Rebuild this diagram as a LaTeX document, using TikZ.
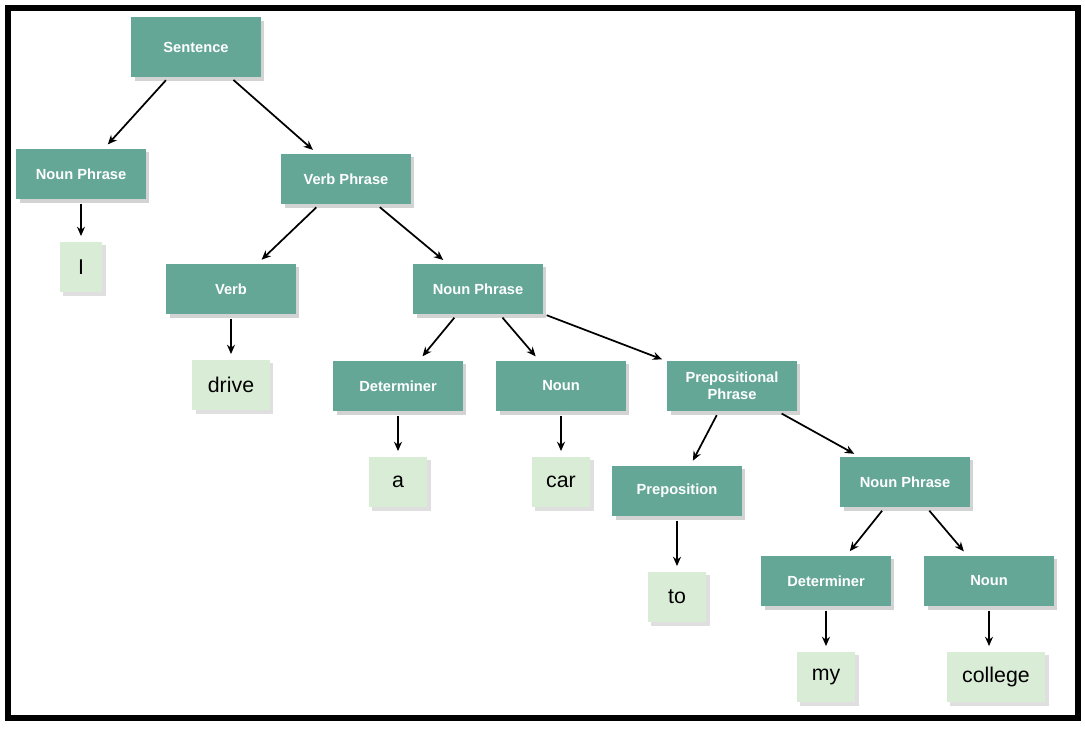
\documentclass[tikz,border=0pt]{standalone}
\usepackage{fontspec}
\setmainfont{Liberation Sans}
\usetikzlibrary{shadows,arrows.meta}
\definecolor{teal1}{HTML}{64A797}
\definecolor{leaf1}{HTML}{D9ECD6}
\tikzset{
  cat/.style={rectangle,fill=teal1,text=white,font=\fontsize{11}{13}\selectfont\bfseries,
    minimum width=97pt,minimum height=38pt,align=center,drop shadow={opacity=0.35}},
  word/.style={rectangle,fill=leaf1,text=black,font=\fontsize{16}{18}\selectfont,
    minimum height=38pt,inner xsep=6pt,drop shadow={opacity=0.25}},
  edge/.style={-{Stealth[length=7pt,width=6pt]},line width=1.3pt,shorten <=3pt,shorten >=4pt}
}
\begin{document}
\begin{tikzpicture}[x=0.75pt,y=-0.75pt]
    \useasboundingbox (0,0) rectangle (1085,732);
    \draw[line width=4pt] (8,8) rectangle (1078,718);

    \node[cat,minimum height=45pt] (s) at (196,47) {Sentence};
    \node[cat] (np1) at (81,174) {Noun Phrase};
    \node[cat] (vp) at (346,179) {Verb Phrase};
    \node[word,minimum width=32pt] (i) at (81,267) {I};
    \node[cat] (v) at (231,289) {Verb};
    \node[cat] (np2) at (478,289) {Noun Phrase};
    \node[word,minimum width=58pt] (drive) at (231,385) {drive};
    \node[cat] (det1) at (398,386) {Determiner};
    \node[cat] (n1) at (561,386) {Noun};
    \node[cat] (pp) at (732,386) {Prepositional\\Phrase};
    \node[word,minimum width=44pt] (a) at (398,482) {a};
    \node[word,minimum width=44pt] (car) at (561,482) {car};
    \node[cat] (prep) at (677,491) {Preposition};
    \node[cat] (np3) at (905,482) {Noun Phrase};
    \node[word,minimum width=44pt] (to) at (677,597) {to};
    \node[cat] (det2) at (826,581) {Determiner};
    \node[cat] (n2) at (989,581) {Noun};
    \node[word,minimum width=44pt] (my) at (826,677) {my};
    \node[word,minimum width=74pt] (college) at (996,677) {college};

    \draw[edge] (s) -- (np1);
    \draw[edge] (s) -- (vp);
    \draw[edge] (np1) -- (i);
    \draw[edge] (vp) -- (v);
    \draw[edge] (vp) -- (np2);
    \draw[edge] (v) -- (drive);
    \draw[edge] (np2) -- (det1);
    \draw[edge] (np2) -- (n1);
    \draw[edge] (np2) -- (pp);
    \draw[edge] (det1) -- (a);
    \draw[edge] (n1) -- (car);
    \draw[edge] (pp) -- (prep);
    \draw[edge] (pp) -- (np3);
    \draw[edge] (prep) -- (to);
    \draw[edge] (np3) -- (det2);
    \draw[edge] (np3) -- (n2);
    \draw[edge] (det2) -- (my);
    \draw[edge] (n2) -- (n2 |- college.north);
\end{tikzpicture}
\end{document}
